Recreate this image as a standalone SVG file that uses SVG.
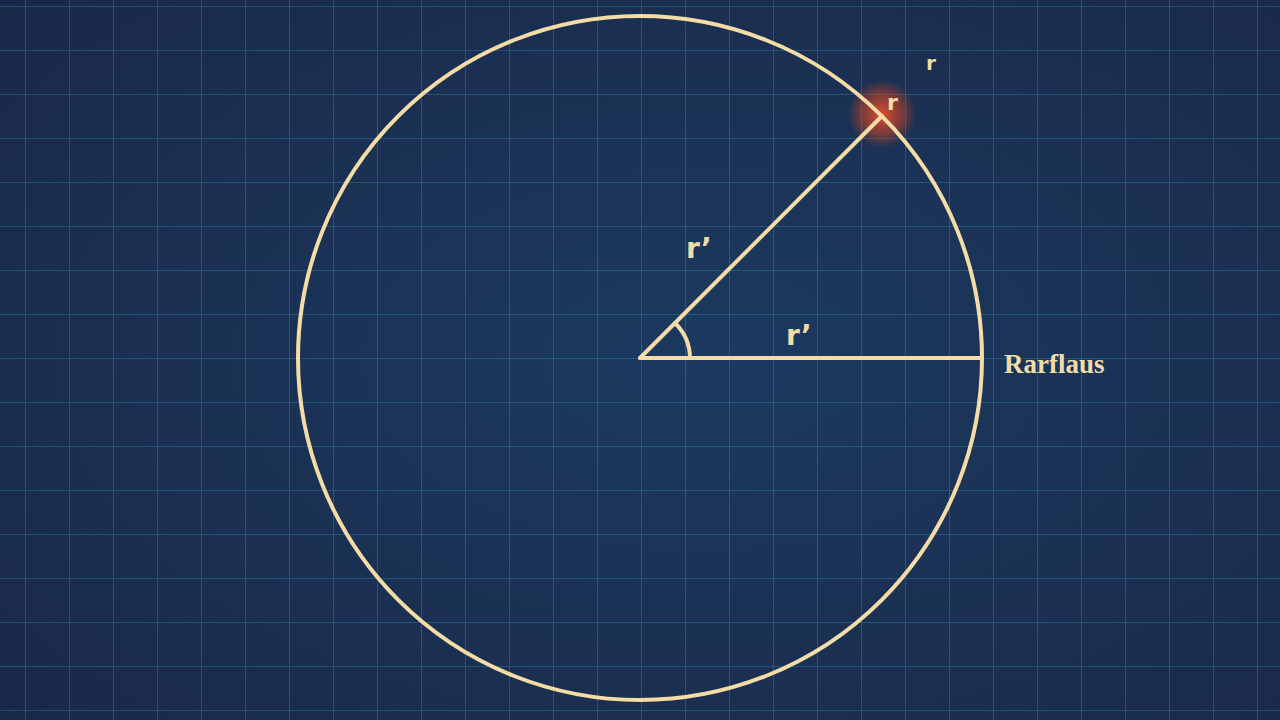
<svg xmlns="http://www.w3.org/2000/svg" width="1280" height="720" viewBox="0 0 1280 720">
<defs>
<pattern id="grid" x="25" y="6" width="44" height="44" patternUnits="userSpaceOnUse">
<path d="M0 0 H44 M0 0 V44" fill="none" stroke="#2f90a8" stroke-width="1.6" stroke-opacity="0.5"/>
</pattern>
<radialGradient id="bg" cx="0.55" cy="0.5" r="0.75">
<stop offset="0" stop-color="#1b3a60"/>
<stop offset="1" stop-color="#1a2848"/>
</radialGradient>
<radialGradient id="glow">
<stop offset="0" stop-color="#e8502a" stop-opacity="0.95"/>
<stop offset="0.6" stop-color="#b8402a" stop-opacity="0.6"/>
<stop offset="1" stop-color="#b8402a" stop-opacity="0"/>
</radialGradient>
<style>
.ln{fill:none;stroke:#f3dca6;stroke-width:4;stroke-linecap:round}
.lbl{font-family:"DejaVu Sans","Liberation Sans",sans-serif;fill:#f3dca6;font-weight:bold}
</style>
</defs>
<rect width="1280" height="720" fill="url(#bg)"/>
<rect width="1280" height="720" fill="url(#grid)"/>
<g id="glow-point"><circle cx="882" cy="114" r="34" fill="url(#glow)"/></g>
<g id="circle-node"><circle cx="640" cy="358" r="342" class="ln"/></g>
<g id="connectors">
<line x1="640" y1="358" x2="882" y2="116" class="ln"/>
<line x1="640" y1="358" x2="982" y2="358" class="ln"/>
<path d="M675 323 A50 50 0 0 1 690 358" class="ln" stroke-width="3"/>
</g>
<g id="labels">
<text x="686" y="258" class="lbl" font-size="28">r’</text>
<text x="786" y="345" class="lbl" font-size="28">r’</text>
<text x="887" y="110" class="lbl" font-size="22" fill="#f6e8cc">r</text>
<text x="926" y="70" class="lbl" font-size="20" fill="#e8e4dc">r</text>
<text x="1004" y="373" font-family="Liberation Serif,serif" font-weight="bold" font-size="27" fill="#f0dca8">Rarflaus</text>
</g>
</svg>
